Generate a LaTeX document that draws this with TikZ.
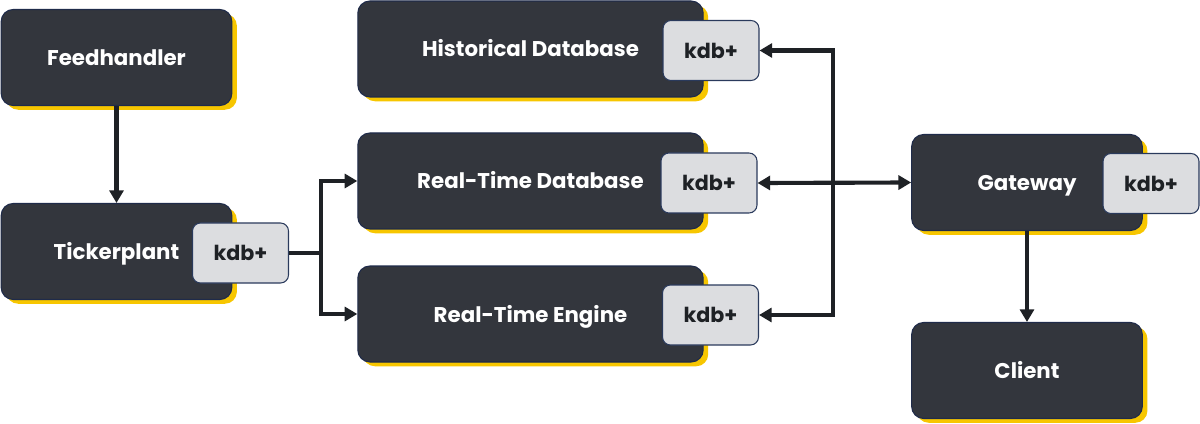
\documentclass[tikz,border=0pt]{standalone}
\usepackage{fontspec}
\setmainfont{Poppins}
\usetikzlibrary{arrows.meta,shadows}
\definecolor{boxdark}{HTML}{33363D}
\definecolor{boxedge}{HTML}{1F2B4A}
\definecolor{shadowy}{HTML}{F7C600}
\definecolor{kdbfill}{HTML}{DCDDE0}
\definecolor{kdbedge}{HTML}{2A3A5C}
\definecolor{arrowc}{HTML}{1E2125}
\tikzset{
  compbox/.style={draw=boxedge, line width=0.8pt, fill=boxdark, rounded corners=9pt,
    minimum width=173pt, minimum height=72pt, text=white, font=\bfseries\fontsize{16}{18}\selectfont,
    text height=1.2em, text depth=0pt,
    drop shadow={shadow xshift=3.8pt, shadow yshift=-3.2pt, fill=shadowy, opacity=1}},
  widebox/.style={compbox, minimum width=259pt},
  kdbbox/.style={draw=kdbedge, line width=0.8pt, fill=kdbfill, rounded corners=6pt,
    minimum width=72pt, minimum height=45pt, text=arrowc, font=\bfseries\fontsize{15.5}{17}\selectfont,
    text height=1.15em, text depth=0pt},
  arr/.style={draw=arrowc, line width=3.1pt, -{Triangle[length=9.5pt,width=10.5pt]}},
  arrb/.style={draw=arrowc, line width=3.1pt, {Triangle[length=9.5pt,width=10.5pt]}-{Triangle[length=9.5pt,width=10.5pt]}},
  ln/.style={draw=arrowc, line width=3.1pt}
}
\begin{document}
\begin{tikzpicture}[x=0.75pt,y=-0.75pt]
\useasboundingbox (0,0) rectangle (1200,424);
% main boxes
\node[compbox] (fh) at (116.5,57.5) {Feedhandler};
\node[compbox] (tp) at (116.5,251.5) {Tickerplant};
\node[widebox] (hdb) at (530.5,49) {Historical Database};
\node[widebox] (rdb) at (530.5,181) {Real-Time Database};
\node[widebox] (rte) at (530.5,314) {Real-Time Engine};
\node[compbox] (gw) at (1027,182.5) {Gateway};
\node[compbox] (cl) at (1027,370.5) {Client};
% kdb+ tags
\node[kdbbox] (tpk) at (240.5,253) {kdb+};
\node[kdbbox] (hk) at (711,50.5) {kdb+};
\node[kdbbox] (rk) at (709,183) {kdb+};
\node[kdbbox] (ek) at (710.5,315) {kdb+};
\node[kdbbox] (gk) at (1151,183.5) {kdb+};
% junctions
\coordinate (j1) at (321,253);
\coordinate (j2) at (833,183);
% connectors
\draw[arr] (fh.south) -- (tp.north);
\draw[ln] (tpk.east) -- (j1);
\draw[arr] (j1) |- (rdb.west);
\draw[arr] (j1) |- (rte.west);
\draw[arrb] (rk.east) -- (gw.west);
\draw[arr] (j2) |- (hk.east);
\draw[arr] (j2) |- (ek.east);
\draw[arr] (gw.south) -- (cl.north);
\end{tikzpicture}
\end{document}
